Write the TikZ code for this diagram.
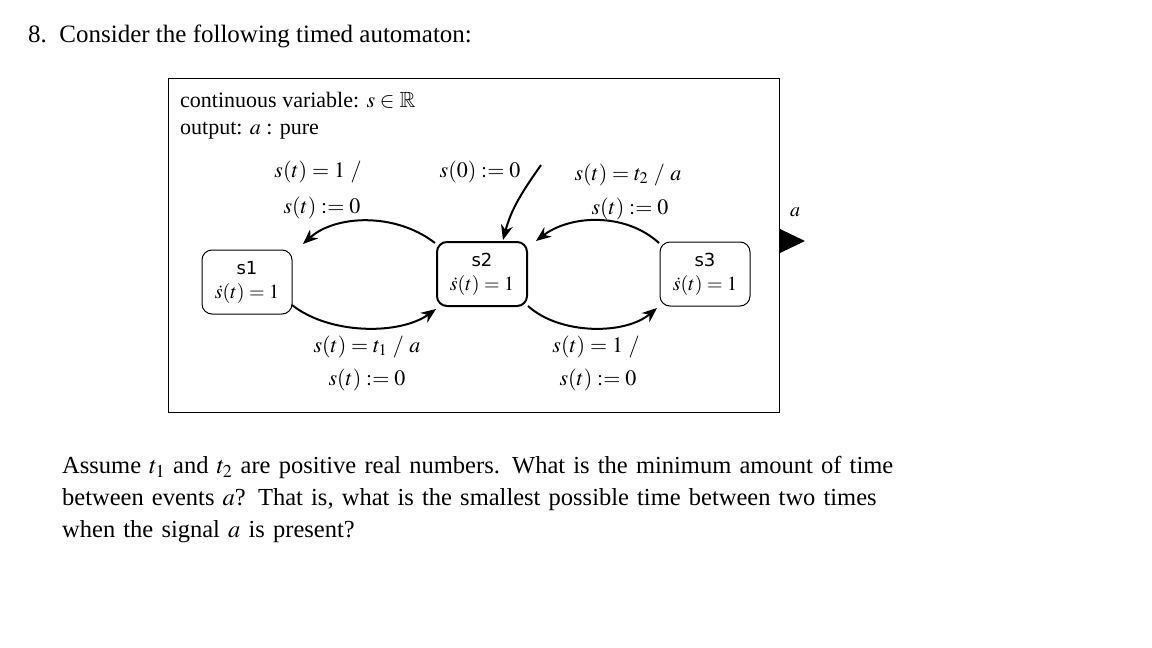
\documentclass[tikz,border=0pt]{standalone}
\usepackage{mathptmx}
\usepackage{amssymb}
\usepackage[no-math]{fontspec}
\setmainfont{Liberation Serif}
\setsansfont{DejaVu Sans}
\usetikzlibrary{arrows.meta}
\begin{document}
\begin{tikzpicture}[x=1pt,y=-1pt,
  st/.style={draw,line width=1pt,rounded corners=10pt,minimum width=90pt,minimum height=64pt,align=center,font=\fontsize{20}{24}\selectfont,inner sep=1pt},
  lab/.style={font=\fontsize{22}{26}\selectfont},
  tr/.style={-{Stealth[length=15pt,width=12pt]},line width=2pt}]
\useasboundingbox (0,0) rectangle (1152,648);
\node[anchor=base west,font=\fontsize{25}{30}\selectfont,inner sep=0pt] (title) at (28,42) {8.\enspace Consider the following timed automaton:};
\node[draw,line width=1.2pt,minimum width=611pt,minimum height=334pt,anchor=north west] (frame) at (168,78) {};
\node[anchor=base west,font=\fontsize{22}{26}\selectfont,inner sep=0pt] (cv) at (180,107) {continuous variable: $s\in\mathbb{R}$};
\node[anchor=base west,font=\fontsize{22}{26}\selectfont,inner sep=0pt] (out) at (180,134) {output: $a$ : pure};
\node[st] (s1) at (247,282) {{\sffamily\fontsize{18}{20}\selectfont s1}\\$\dot s(t)=1$};
\node[st,line width=2pt] (s2) at (482,274) {{\sffamily\fontsize{18}{20}\selectfont s2}\\$\dot s(t)=1$};
\node[st] (s3) at (705,274) {{\sffamily\fontsize{18}{20}\selectfont s3}\\$\dot s(t)=1$};
\coordinate (init) at (541,165);
\draw[tr] (init) to[out=-125,in=75] (503,240);
\draw[tr] (435,243) .. controls (395,212) and (335,215) .. (303,244);
\draw[tr] (292,305) .. controls (330,335) and (400,335) .. (436,309);
\draw[tr] (659,243) .. controls (625,212) and (570,215) .. (536,241);
\draw[tr] (528,306) .. controls (560,335) and (625,335) .. (657,308);
\node[lab] (l1) at (318,172) {$s(t)=1\ /$};
\node[lab] (l1b) at (322,208) {$s(t):=0$};
\node[lab] (l0) at (480,172) {$s(0):=0$};
\node[lab] (l2) at (628,175) {$s(t)=t_2\ /\ a$};
\node[lab] (l2b) at (630,209) {$s(t):=0$};
\node[lab] (l3) at (367,347) {$s(t)=t_1\ /\ a$};
\node[lab] (l3b) at (367,380) {$s(t):=0$};
\node[lab] (l4) at (596,347) {$s(t)=1\ /$};
\node[lab] (l4b) at (598,380) {$s(t):=0$};
\fill (780,229) -- (805,241) -- (780,253) -- cycle;
\node[font=\fontsize{20}{22}\selectfont] (oa) at (795,212) {$a$};
\node[anchor=north west,text width=860pt,align=left,font=\fontsize{24.5}{32}\selectfont,inner sep=0pt] (q) at (62,456) {Assume $t_1$ and $t_2$ are positive real numbers. What is the minimum amount of time\\ between events $a$? That is, what is the smallest possible time between two times\\ when the signal $a$ is present?};
\end{tikzpicture}
\end{document}
